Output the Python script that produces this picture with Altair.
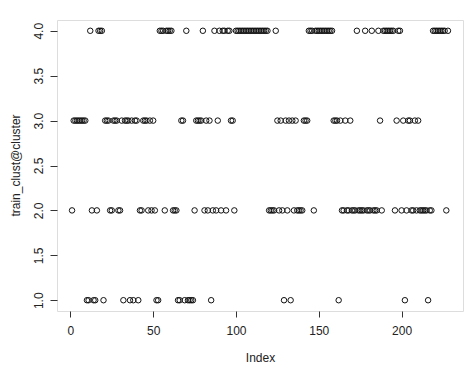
import altair as alt
import pandas as pd

cluster = [
    2, 3, 3, 3, 3, 3, 3, 3, 3, 1,   # 1-10
    1, 4, 2, 1, 1, 2, 4, 4, 4, 1,   # 11-20
    3, 3, 3, 2, 2, 3, 3, 3, 2, 2,   # 21-30
    3, 1, 3, 3, 3, 1, 3, 1, 3, 3,   # 31-40
    1, 2, 2, 3, 3, 3, 2, 3, 2, 3,   # 41-50
    2, 1, 1, 4, 4, 4, 2, 4, 4, 4,   # 51-60
    4, 2, 2, 2, 1, 1, 3, 3, 1, 4,   # 61-70
    1, 1, 1, 1, 2, 3, 3, 3, 3, 4,   # 71-80
    2, 3, 2, 3, 1, 2, 4, 2, 3, 4,   # 81-90
    2, 4, 4, 2, 4, 4, 3, 3, 2, 4,   # 91-100
    4, 4, 4, 4, 4, 4, 4, 4, 4, 4,   # 101-110
    4, 4, 4, 4, 4, 4, 4, 4, 4, 2,   # 111-120
    2, 2, 2, 4, 3, 2, 3, 2, 1, 3,   # 121-130
    2, 3, 1, 3, 2, 3, 2, 2, 2, 2,   # 131-140
    3, 3, 3, 4, 4, 4, 2, 4, 4, 4,   # 141-150
    4, 4, 4, 4, 4, 4, 4, 4, 3, 3,   # 151-160
    3, 1, 3, 2, 2, 3, 2, 2, 3, 2,   # 161-170
    2, 2, 4, 2, 2, 2, 2, 4, 2, 2,   # 171-180
    2, 4, 2, 2, 2, 4, 3, 2, 4, 4,   # 181-190
    4, 4, 4, 4, 4, 2, 3, 4, 4, 2,   # 191-200
    3, 1, 2, 3, 3, 2, 2, 3, 2, 3,   # 201-210
    2, 2, 2, 2, 2, 1, 2, 2, 4, 4,   # 211-220
    4, 4, 4, 4, 4, 4, 2, 4,         # 221-228
]
index = list(range(1, len(cluster) + 1))

x_ticks = [0, 50, 100, 150, 200]
y_ticks = [1.0, 1.5, 2.0, 2.5, 3.0, 3.5, 4.0]

n = len(cluster)
ext = (n - 1) * 0.04
x_domain = [1 - ext, n + ext]
y_domain = [1 - 0.12, 4 + 0.12]

df = pd.DataFrame({"Index": index, "cluster": cluster})

font = "Liberation Sans"

chart = (
    alt.Chart(df)
    .mark_point(shape="circle", filled=False, size=30, color="#111", strokeWidth=1, opacity=1)
    .encode(
        x=alt.X(
            "Index:Q",
            scale=alt.Scale(domain=x_domain, nice=False, zero=False),
            axis=alt.Axis(
                values=x_ticks, format="d", title="Index", grid=False, domain=False,
                tickSize=6, tickColor="#333", labelPadding=8, labelFontSize=12,
                labelColor="#222", titleFontSize=12, titleFontWeight="normal",
                titleColor="#222", titleY=46, titleBaseline="middle",
            ),
        ),
        y=alt.Y(
            "cluster:Q",
            scale=alt.Scale(domain=y_domain, nice=False, zero=False),
            axis=alt.Axis(
                values=y_ticks, format=".1f", title="train_clust@cluster", grid=False,
                domain=False, tickSize=7, tickColor="#333", labelAngle=270,
                labelAlign="center", labelBaseline="bottom", labelPadding=5,
                labelFontSize=12, labelColor="#222", titleFontSize=12,
                titleFontWeight="normal", titleColor="#222", titleX=-42,
                titleY=145, titleBaseline="middle", titleAngle=270,
            ),
        ),
    )
    .properties(
        width=406,
        height=291,
        padding={"left": 49, "top": 12, "right": 3, "bottom": 55},
        autosize=alt.AutoSizeParams(type="none"),
    )
    .configure_view(stroke="#333", strokeWidth=1)
    .configure_axis(labelFont=font, titleFont=font)
    .configure(background="white")
)

chart.save("out.html", embed_options={"renderer": "svg", "actions": False})
